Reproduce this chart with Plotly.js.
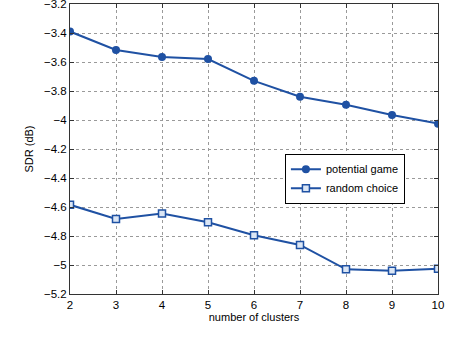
<!DOCTYPE html>
<html><head><meta charset="utf-8">
<script src="https://cdn.plot.ly/plotly-3.0.1.min.js"></script>
<style>html,body{margin:0;padding:0;background:#fff;}#chart{width:474px;height:351px;}</style>
</head><body><div id="chart"></div>
<script>
const clusters = [2, 3, 4, 5, 6, 7, 8, 9, 10];
const potentialGame = [-3.39, -3.517, -3.565, -3.58, -3.73, -3.84, -3.895, -3.965, -4.025];
const randomChoice = [-4.585, -4.683, -4.645, -4.705, -4.795, -4.862, -5.03, -5.04, -5.025];
const yTickVals = [-5.2, -5, -4.8, -4.6, -4.4, -4.2, -4, -3.8, -3.6, -3.4, -3.2];
const yTickText = ['\u22125.2', '\u22125', '\u22124.8', '\u22124.6', '\u22124.4', '\u22124.2', '\u22124', '\u22123.8', '\u22123.6', '\u22123.4', '\u22123.2'];
const lineColor = '#1f51a3';
const traces = [
  {x: clusters, y: potentialGame, name: 'potential game', mode: 'lines+markers',
   line: {color: lineColor, width: 2}, marker: {symbol: 'circle', size: 8, color: lineColor}},
  {x: clusters, y: randomChoice, name: 'random choice', mode: 'lines+markers',
   line: {color: lineColor, width: 2}, marker: {symbol: 'square', size: 7, color: '#dbe6f5', line: {color: lineColor, width: 1.5}}}
];
const axisCommon = {
  showline: true, linecolor: '#333', linewidth: 1, mirror: 'ticks', ticks: 'inside', ticklen: 4,
  tickcolor: '#333', showgrid: true, gridcolor: '#9a9a9a', griddash: 'dot', gridwidth: 1,
  zeroline: false, ticklabeloverflow: 'allow',
  tickfont: {family: 'Liberation Sans, Arial, sans-serif', size: 11.5, color: '#000'}
};
const layout = {
  width: 474, height: 351,
  margin: {l: 70, r: 36, t: 4, b: 57},
  paper_bgcolor: '#fff', plot_bgcolor: '#fff',
  font: {family: 'Liberation Sans, Arial, sans-serif', size: 11, color: '#000'},
  xaxis: Object.assign({}, axisCommon, {range: [2, 10], dtick: 1,
    title: {text: 'number of clusters', font: {size: 11}, standoff: 2}}),
  yaxis: Object.assign({}, axisCommon, {range: [-5.2, -3.2], tickmode: 'array',
    tickvals: yTickVals, ticktext: yTickText,
    title: {text: 'SDR (dB)', font: {size: 11}, standoff: 8}}),
  showlegend: true,
  legend: {x: 0.584, y: 0.484, xanchor: 'left', yanchor: 'top', bgcolor: '#fff',
    bordercolor: '#000', borderwidth: 1, font: {size: 11}, tracegroupgap: 0, itemwidth: 30}
};
Plotly.newPlot('chart', traces, layout, {displayModeBar: false, staticPlot: true});
</script></body></html>
